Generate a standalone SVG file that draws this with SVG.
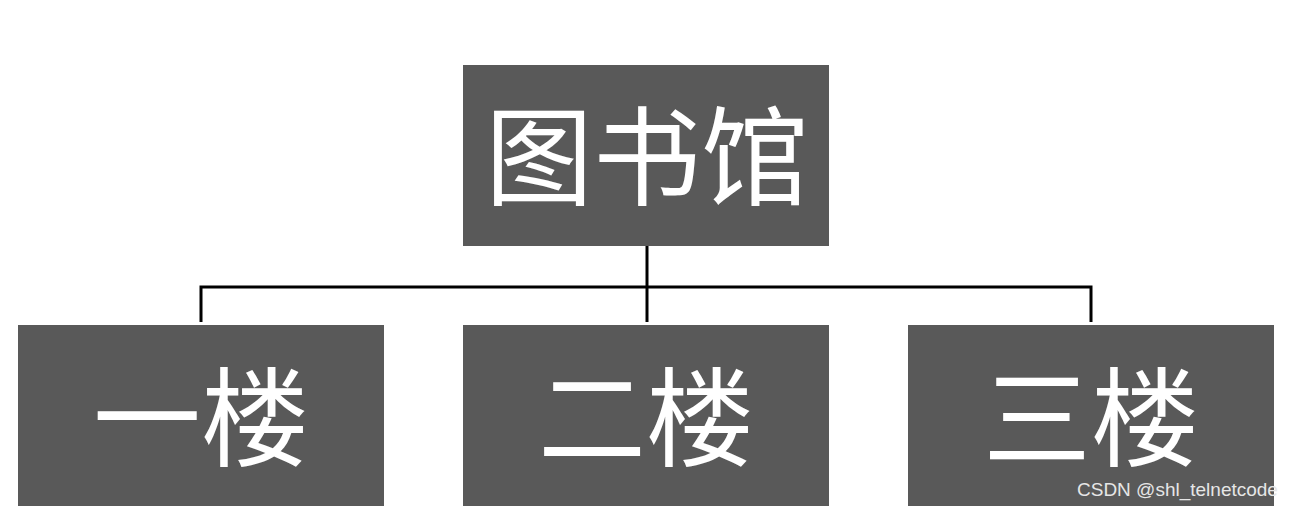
<svg xmlns="http://www.w3.org/2000/svg" width="1292" height="509" viewBox="0 0 1292 509">
<style>
.box{fill:#595959}
.lbl{font-family:"Noto Sans CJK SC","Noto Sans",sans-serif;font-size:108px;fill:#ffffff;text-anchor:middle;dominant-baseline:central}
.conn{stroke:#000;stroke-width:3;fill:none}
.wm{font-family:"Liberation Sans",Arial,sans-serif;font-size:19px;fill:#e6e6e6}
</style>
<rect width="1292" height="509" fill="#ffffff"/>
<g id="connectors">
<path class="conn" d="M647 246 V322"/>
<path class="conn" d="M201 322 V287 H1091 V322"/>
</g>
<g id="library">
<rect class="box" x="463" y="65" width="366" height="181"/>
<text class="lbl" x="647" y="150">图书馆</text>
</g>
<g id="floor1">
<rect class="box" x="18" y="325" width="366" height="181"/>
<text class="lbl" x="201" y="411">一楼</text>
</g>
<g id="floor2">
<rect class="box" x="463" y="325" width="366" height="181"/>
<text class="lbl" x="646" y="411">二楼</text>
</g>
<g id="floor3">
<rect class="box" x="908" y="325" width="366" height="181"/>
<text class="lbl" x="1091" y="411">三楼</text>
</g>
<text class="wm" x="1077" y="496">CSDN @shl_telnetcode</text>
</svg>
